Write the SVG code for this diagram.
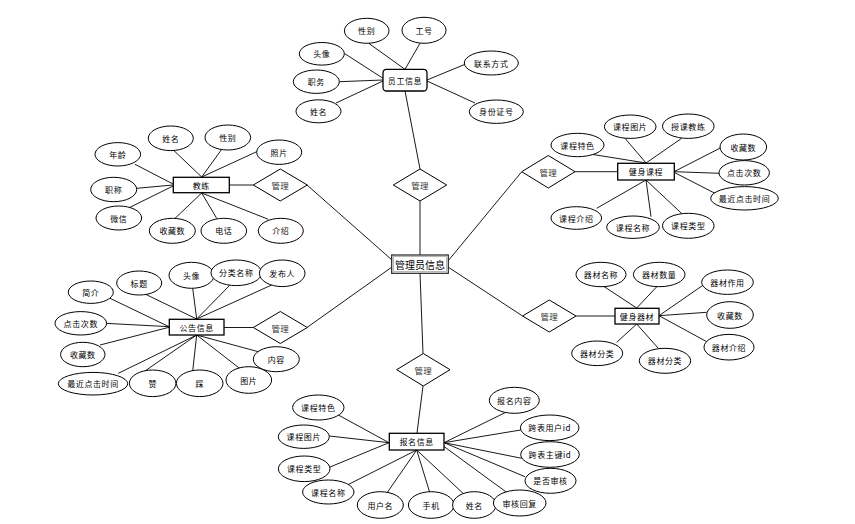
<svg xmlns="http://www.w3.org/2000/svg" width="855" height="524" viewBox="0 0 855 524">
<style>
.e{fill:#fff;stroke:#000;stroke-width:1}
.b{fill:#fff;stroke:#000;stroke-width:1.3}
.d{fill:#fff;stroke:#000;stroke-width:1}
.c line{stroke:#000;stroke-width:0.9}
text{font-family:"Noto Sans CJK SC","Noto Sans",sans-serif;font-size:8px;text-anchor:middle;dominant-baseline:central;fill:#000;letter-spacing:0.6px}
.dt{fill:#333;font-size:8.5px;letter-spacing:0.3px}
.big{font-size:10px;letter-spacing:0}
</style>
<rect width="855" height="524" fill="#fff"/>
<g class="c" id="connectors">
<!-- center to diamonds -->
<line x1="420" y1="201" x2="420" y2="255"/>
<line x1="307" y1="185" x2="392" y2="260"/>
<line x1="307" y1="327.5" x2="392" y2="267"/>
<line x1="521.5" y1="172" x2="448" y2="261"/>
<line x1="522.5" y1="316" x2="448" y2="267"/>
<line x1="423" y1="353.5" x2="420" y2="273"/>
<!-- diamonds to entities -->
<line x1="420" y1="169" x2="405" y2="91"/>
<line x1="229" y1="185" x2="253.5" y2="185"/>
<line x1="224" y1="327.5" x2="253.5" y2="327.5"/>
<line x1="575" y1="171.7" x2="618" y2="171.7"/>
<line x1="576" y1="316" x2="615" y2="316"/>
<line x1="423" y1="386" x2="417" y2="433"/>
<!-- 员工信息 -->
<line x1="368.7" y1="43.3" x2="405" y2="69.3"/>
<line x1="420" y1="43.3" x2="405" y2="69.3"/>
<line x1="344.5" y1="53.5" x2="383" y2="78.3"/>
<line x1="339.3" y1="81.7" x2="383" y2="80"/>
<line x1="336" y1="103" x2="383" y2="81"/>
<line x1="465" y1="64.3" x2="427" y2="80"/>
<line x1="475" y1="103" x2="427" y2="81"/>
<!-- 教练 -->
<line x1="135" y1="164.3" x2="173" y2="184"/>
<line x1="173.3" y1="150" x2="201.7" y2="177"/>
<line x1="221.7" y1="149.3" x2="201.7" y2="177"/>
<line x1="256.7" y1="151.7" x2="201.7" y2="177"/>
<line x1="136.7" y1="188.3" x2="173" y2="185"/>
<line x1="130" y1="207.3" x2="173" y2="186"/>
<line x1="174" y1="219.3" x2="201.7" y2="193"/>
<line x1="216.7" y1="218.3" x2="201.7" y2="193"/>
<line x1="268.3" y1="219.3" x2="201.7" y2="193"/>
<!-- 健身课程 -->
<line x1="591.7" y1="154.3" x2="646" y2="163"/>
<line x1="625" y1="138.3" x2="646" y2="163"/>
<line x1="681.7" y1="138.3" x2="646" y2="163"/>
<line x1="721.7" y1="147.3" x2="674" y2="171.7"/>
<line x1="720" y1="173.3" x2="674" y2="171.7"/>
<line x1="715" y1="193.3" x2="674" y2="172.3"/>
<line x1="596.7" y1="208.3" x2="646" y2="180"/>
<line x1="651" y1="216.7" x2="646" y2="180"/>
<line x1="683.3" y1="215" x2="646" y2="180"/>
<!-- 公告信息 -->
<line x1="110" y1="298.3" x2="169" y2="326.7"/>
<line x1="145" y1="294" x2="196.7" y2="319"/>
<line x1="192.7" y1="288.3" x2="196.7" y2="319"/>
<line x1="230" y1="285" x2="196.7" y2="319"/>
<line x1="271.7" y1="285" x2="196.7" y2="319"/>
<line x1="105" y1="323.3" x2="169" y2="326.7"/>
<line x1="100" y1="345" x2="169" y2="327.3"/>
<line x1="118.3" y1="373.3" x2="196.7" y2="335"/>
<line x1="145" y1="371" x2="196.7" y2="335"/>
<line x1="192.7" y1="371" x2="196.7" y2="335"/>
<line x1="241.7" y1="370" x2="196.7" y2="335"/>
<line x1="258.3" y1="351.7" x2="196.7" y2="335"/>
<!-- 健身器材 -->
<line x1="602.7" y1="285.7" x2="636.7" y2="308"/>
<line x1="660" y1="283.3" x2="636.7" y2="308"/>
<line x1="703.3" y1="285" x2="659" y2="315.7"/>
<line x1="706.7" y1="312.3" x2="659" y2="315.7"/>
<line x1="706.7" y1="341.7" x2="659" y2="315.7"/>
<line x1="616.7" y1="342.3" x2="636.7" y2="324"/>
<line x1="658.3" y1="348.3" x2="636.7" y2="324"/>
<!-- 报名信息 -->
<line x1="338.3" y1="415" x2="389" y2="442.7"/>
<line x1="329.3" y1="436" x2="389" y2="442.7"/>
<line x1="329.3" y1="467.3" x2="389" y2="442.7"/>
<line x1="347.3" y1="485" x2="416.7" y2="450"/>
<line x1="386.7" y1="493.3" x2="416.7" y2="450"/>
<line x1="430" y1="493.3" x2="416.7" y2="450"/>
<line x1="466.7" y1="496.7" x2="416.7" y2="450"/>
<line x1="509.3" y1="494.3" x2="444" y2="446.5"/>
<line x1="525" y1="476.7" x2="444" y2="442.7"/>
<line x1="521.7" y1="458.3" x2="444" y2="442.7"/>
<line x1="520.7" y1="430" x2="444" y2="442.7"/>
<line x1="505" y1="412.7" x2="444" y2="442.7"/>
</g>

<g id="admin">
<rect x="391.7" y="255" width="56.6" height="18.3" fill="#fff" stroke="#222" stroke-width="1.2"/>
<rect x="393.4" y="256.7" width="53.2" height="14.9" fill="none" stroke="#888" stroke-width="0.6"/>
<text class="big" x="420" y="264.2">管理员信息</text>
</g>

<g id="rel-top"><polygon class="d" points="420,169 446.7,185 420,201 393.3,185"/><text class="dt" x="420" y="185">管理</text></g>
<g id="rel-coach"><polygon class="d" points="280.3,169 307.3,185 280.3,201 253.3,185"/><text class="dt" x="280.3" y="185">管理</text></g>
<g id="rel-notice"><polygon class="d" points="280.3,311.5 307.3,327.5 280.3,343.5 253.3,327.5"/><text class="dt" x="280.3" y="327.5">管理</text></g>
<g id="rel-course"><polygon class="d" points="548.3,155.5 575,171.7 548.3,188 521.7,171.7"/><text class="dt" x="548.3" y="171.7">管理</text></g>
<g id="rel-equip"><polygon class="d" points="549.3,300 576,316 549.3,332 522.5,316"/><text class="dt" x="549.3" y="316">管理</text></g>
<g id="rel-signup"><polygon class="d" points="423.3,353.5 450,369.7 423.3,386 396.7,369.7"/><text class="dt" x="423.3" y="369.7">管理</text></g>

<g id="staff">
<rect class="b" x="383" y="69.3" width="44" height="21.7" rx="3.5"/>
<text x="405" y="80.2">员工信息</text>
</g>
<g id="staff-attrs">
<g><ellipse class="e" cx="366.7" cy="30.8" rx="22.3" ry="12.5"/><text x="366.7" y="30.8">性别</text></g>
<g><ellipse class="e" cx="424" cy="30.3" rx="22" ry="13"/><text x="424" y="30.3">工号</text></g>
<g><ellipse class="e" cx="321.8" cy="53.8" rx="22.5" ry="11.3"/><text x="321.8" y="53.8">头像</text></g>
<g><ellipse class="e" cx="316.3" cy="81.7" rx="23" ry="11.7"/><text x="316.3" y="81.7">职务</text></g>
<g><ellipse class="e" cx="318.5" cy="111.3" rx="22.5" ry="11.5"/><text x="318.5" y="111.3">姓名</text></g>
<g><ellipse class="e" cx="491.3" cy="63" rx="27" ry="12"/><text x="491.3" y="63">联系方式</text></g>
<g><ellipse class="e" cx="496.3" cy="111.7" rx="27" ry="11.7"/><text x="496.3" y="111.7">身份证号</text></g>
</g>

<g id="coach">
<rect class="b" x="173.3" y="177.3" width="56" height="15.4"/>
<text x="201.3" y="185">教练</text>
</g>
<g id="coach-attrs">
<g><ellipse class="e" cx="117.8" cy="154.3" rx="22.8" ry="11.7"/><text x="117.8" y="154.3">年龄</text></g>
<g><ellipse class="e" cx="170.8" cy="138.3" rx="22.5" ry="12.3"/><text x="170.8" y="138.3">姓名</text></g>
<g><ellipse class="e" cx="227.8" cy="137.5" rx="22.8" ry="12.5"/><text x="227.8" y="137.5">性别</text></g>
<g><ellipse class="e" cx="279.2" cy="152.2" rx="22.5" ry="12.2"/><text x="279.2" y="152.2">照片</text></g>
<g><ellipse class="e" cx="113.7" cy="189.5" rx="23" ry="12.2"/><text x="113.7" y="189.5">职称</text></g>
<g><ellipse class="e" cx="118.8" cy="218" rx="22.8" ry="12"/><text x="118.8" y="218">微信</text></g>
<g><ellipse class="e" cx="172.3" cy="230.8" rx="23" ry="12.5"/><text x="172.3" y="230.8">收藏数</text></g>
<g><ellipse class="e" cx="223.8" cy="230.8" rx="22.8" ry="12.5"/><text x="223.8" y="230.8">电话</text></g>
<g><ellipse class="e" cx="280.8" cy="230.8" rx="22.5" ry="12.5"/><text x="280.8" y="230.8">介绍</text></g>
</g>

<g id="course">
<rect class="b" x="617.7" y="163.3" width="56.6" height="16.7"/>
<text x="646" y="171.7">健身课程</text>
</g>
<g id="course-attrs">
<g><ellipse class="e" cx="577.5" cy="145" rx="26.5" ry="11.7"/><text x="577.5" y="145">课程特色</text></g>
<g><ellipse class="e" cx="630.2" cy="126.7" rx="25.8" ry="11.7"/><text x="630.2" y="126.7">课程图片</text></g>
<g><ellipse class="e" cx="688.3" cy="126.2" rx="25.8" ry="12.2"/><text x="688.3" y="126.2">授课教练</text></g>
<g><ellipse class="e" cx="743.3" cy="147" rx="23.3" ry="13"/><text x="743.3" y="147">收藏数</text></g>
<g><ellipse class="e" cx="744.2" cy="172.8" rx="25.2" ry="12.2"/><text x="744.2" y="172.8">点击次数</text></g>
<g><ellipse class="e" cx="744.5" cy="198.3" rx="33.8" ry="11.7"/><text x="744.5" y="198.3">最近点击时间</text></g>
<g><ellipse class="e" cx="576.3" cy="218" rx="25.3" ry="11.3"/><text x="576.3" y="218">课程介绍</text></g>
<g><ellipse class="e" cx="633" cy="227.2" rx="26.3" ry="11.2"/><text x="633" y="227.2">课程名称</text></g>
<g><ellipse class="e" cx="688.3" cy="225.8" rx="25.8" ry="12.5"/><text x="688.3" y="225.8">课程类型</text></g>
</g>

<g id="notice">
<rect class="b" x="169.3" y="319.3" width="54.7" height="15.7"/>
<text x="196.7" y="327.2">公告信息</text>
</g>
<g id="notice-attrs">
<g><ellipse class="e" cx="90.8" cy="292.2" rx="22.5" ry="11.2"/><text x="90.8" y="292.2">简介</text></g>
<g><ellipse class="e" cx="139.2" cy="283" rx="22.5" ry="12"/><text x="139.2" y="283">标题</text></g>
<g><ellipse class="e" cx="191.5" cy="275.3" rx="22.5" ry="13"/><text x="191.5" y="275.3">头像</text></g>
<g><ellipse class="e" cx="236.3" cy="272.8" rx="25.3" ry="12.8"/><text x="236.3" y="272.8">分类名称</text></g>
<g><ellipse class="e" cx="282.2" cy="273.3" rx="22.8" ry="13.3"/><text x="282.2" y="273.3">发布人</text></g>
<g><ellipse class="e" cx="80.8" cy="323.3" rx="25.8" ry="11.7"/><text x="80.8" y="323.3">点击次数</text></g>
<g><ellipse class="e" cx="82.8" cy="354.5" rx="22.2" ry="12.2"/><text x="82.8" y="354.5">收藏数</text></g>
<g><ellipse class="e" cx="93" cy="383.7" rx="34.7" ry="11.3"/><text x="93" y="383.7">最近点击时间</text></g>
<g><ellipse class="e" cx="152.7" cy="383.3" rx="23.3" ry="13.3"/><text x="152.7" y="383.3">赞</text></g>
<g><ellipse class="e" cx="199.7" cy="383.3" rx="23.3" ry="13.3"/><text x="199.7" y="383.3">踩</text></g>
<g><ellipse class="e" cx="248.8" cy="380" rx="22.8" ry="13.3"/><text x="248.8" y="380">图片</text></g>
<g><ellipse class="e" cx="276.3" cy="359.2" rx="23" ry="12.5"/><text x="276.3" y="359.2">内容</text></g>
</g>

<g id="equipment">
<rect class="b" x="615" y="308.3" width="44" height="15.7"/>
<text x="637" y="316.2">健身器材</text>
</g>
<g id="equipment-attrs">
<g><ellipse class="e" cx="601" cy="274.5" rx="25" ry="12.2"/><text x="601" y="274.5">器材名称</text></g>
<g><ellipse class="e" cx="659.2" cy="274.5" rx="25.8" ry="12.2"/><text x="659.2" y="274.5">器材数量</text></g>
<g><ellipse class="e" cx="727.5" cy="282.2" rx="25.8" ry="12.2"/><text x="727.5" y="282.2">器材作用</text></g>
<g><ellipse class="e" cx="730" cy="315" rx="23.3" ry="13.3"/><text x="730" y="315">收藏数</text></g>
<g><ellipse class="e" cx="729" cy="347.2" rx="25" ry="12.8"/><text x="729" y="347.2">器材介绍</text></g>
<g><ellipse class="e" cx="597.2" cy="353.3" rx="25.5" ry="12.3"/><text x="597.2" y="353.3">器材分类</text></g>
<g><ellipse class="e" cx="665" cy="360.8" rx="25.7" ry="12.5"/><text x="665" y="360.8">器材分类</text></g>
</g>

<g id="signup">
<rect class="b" x="389.3" y="433.3" width="54.7" height="16.7"/>
<text x="416.7" y="441.7">报名信息</text>
</g>
<g id="signup-attrs">
<g><ellipse class="e" cx="318.3" cy="407.5" rx="25.7" ry="12.5"/><text x="318.3" y="407.5">课程特色</text></g>
<g><ellipse class="e" cx="303.8" cy="436.7" rx="25.5" ry="11.7"/><text x="303.8" y="436.7">课程图片</text></g>
<g><ellipse class="e" cx="304.2" cy="468.8" rx="25.8" ry="12.8"/><text x="304.2" y="468.8">课程类型</text></g>
<g><ellipse class="e" cx="328.3" cy="492" rx="25.7" ry="12"/><text x="328.3" y="492">课程名称</text></g>
<g><ellipse class="e" cx="380.3" cy="505" rx="23" ry="13.3"/><text x="380.3" y="505">用户名</text></g>
<g><ellipse class="e" cx="431.2" cy="505" rx="22.8" ry="13.3"/><text x="431.2" y="505">手机</text></g>
<g><ellipse class="e" cx="474.3" cy="505" rx="21.7" ry="13.3"/><text x="474.3" y="505">姓名</text></g>
<g><ellipse class="e" cx="519.7" cy="503" rx="26.3" ry="13"/><text x="519.7" y="503">审核回复</text></g>
<g><ellipse class="e" cx="550.5" cy="480.8" rx="25.5" ry="12.5"/><text x="550.5" y="480.8">是否审核</text></g>
<g><ellipse class="e" cx="550" cy="454.5" rx="29.3" ry="12.8"/><text x="550" y="454.5">跨表主键id</text></g>
<g><ellipse class="e" cx="549.7" cy="427.8" rx="29.3" ry="12.8"/><text x="549.7" y="427.8">跨表用户id</text></g>
<g><ellipse class="e" cx="514.3" cy="400.3" rx="25" ry="13"/><text x="514.3" y="400.3">报名内容</text></g>
</g>
</svg>
